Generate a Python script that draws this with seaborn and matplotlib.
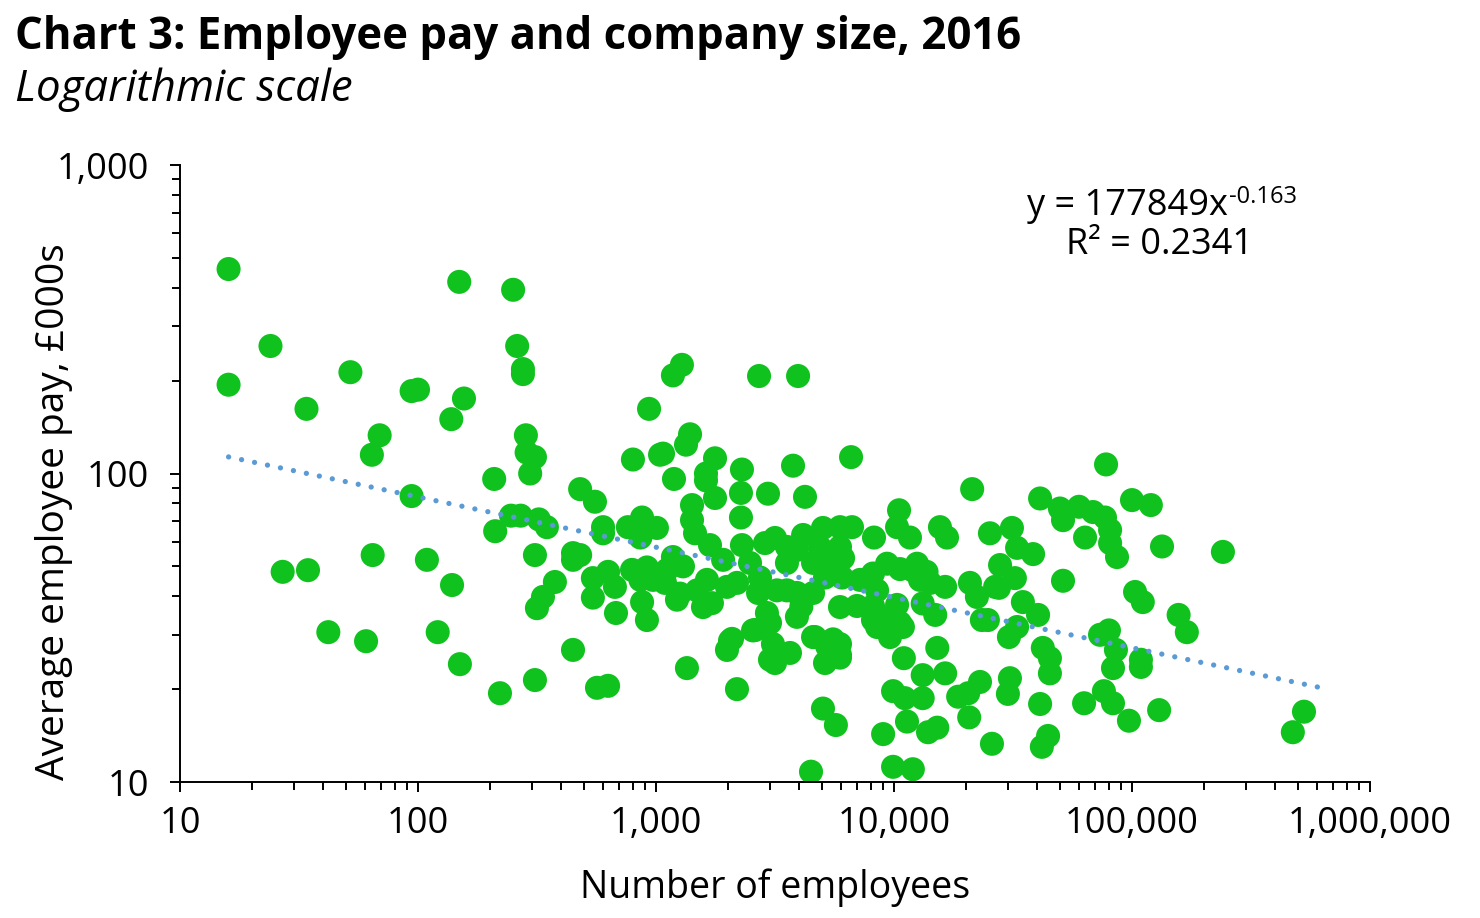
import numpy as np
import pandas as pd
import matplotlib
matplotlib.use("Agg")
import matplotlib.pyplot as plt
import matplotlib.ticker as mticker
import seaborn as sns

# ---- data: (number of employees, average employee pay in £000s) ----
employees_left = [16, 16, 24, 34, 27, 34.5, 52, 69, 64, 64.5, 42, 60.5, 94, 100, 94, 156, 138, 149,
                  251, 261, 276, 276, 284, 286, 310, 296, 209, 480, 554, 935, 800, 1040, 246, 270,
                  322, 348, 211, 599, 599, 762, 874, 860, 109, 139, 121, 150, 221, 310, 448, 565,
                  629, 310, 448, 480, 448, 376, 335, 316, 543, 629, 672, 543, 793, 860, 679, 874,
                  916, 971]
pay_left = [460, 194, 259, 162, 48, 48.6, 213, 133, 115, 54.4, 30.6, 28.6, 185, 187, 84.5, 175, 150, 418,
            394, 259, 218, 210, 133, 117, 113, 100, 96, 89, 81, 162, 111, 115, 73, 73,
            71, 67, 65, 67, 64, 67, 72, 62, 52.5, 43.5, 30.6, 24.1, 19.4, 21.4, 26.8, 20.2,
            20.5, 54.4, 55.2, 54.4, 52.5, 44.5, 39.8, 36.6, 45.8, 48, 42.9, 39.6, 48.7, 45.2, 35.3, 38.3,
            33.5, 45.2]

employees_mid = [1285, 1178, 2710, 3953, 1390, 1337, 1070, 1770, 1190, 1622, 1622, 2297, 2275, 1770,
                 2955, 4227, 3765, 6600, 1417, 1417, 2275, 1009, 10500, 8240, 15600, 16700, 21300,
                 25300, 11670, 10300, 1349, 2189, 2086, 1987, 2607, 3013, 3100, 3655, 4656, 5543,
                 5930, 5130, 5030, 5700, 4480, 9000, 9910, 12000, 11000, 15200, 13200, 16400, 9910,
                 11100, 13200, 11340, 13900, 15200, 18600, 20500, 22980, 20700, 25800, 16400, 20850,
                 22300, 23400, 14900, 26600, 10600, 9620, 8490]
pay_mid = [225, 208, 207, 207, 134, 124, 116, 112, 96, 100, 95, 103, 86.5, 83.3,
           86, 84, 106, 113, 79, 70.6, 72, 66.6, 76, 62, 67, 62, 89,
           64, 62, 67, 23.4, 20, 29.1, 26.8, 31.1, 24.9, 28, 26.2, 29.5, 29,
           25.8, 24.3, 17.3, 15.3, 10.8, 14.3, 11.2, 11.0, 25.2, 27.2, 22.2, 22.5, 19.7,
           18.7, 18.7, 15.7, 14.5, 15.0, 18.9, 19.4, 21.1, 16.2, 13.3, 42.9, 44.2,
           39.8, 33.5, 34.8, 42.9, 32.8, 29.5, 31.8]

employees_core = [1459, 1686, 2297, 2870, 3162, 4150, 5030, 5930, 6660, 5930, 6110, 4890, 3910, 3550,
                  1178, 1298, 1091, 1262, 1637, 1575, 1718, 1987, 2189, 2684, 3223, 3550, 3910, 4570,
                  5130, 6050, 5930, 7200, 8160, 9350, 8490, 8160, 9350, 2925, 3013, 2557, 3910, 4080,
                  4570, 5240, 5930, 5930, 2046, 3162, 10600, 12500, 13700, 14200, 13200, 10300, 10900,
                  1914, 2483, 3550, 4570, 5240, 1112, 916, 2735, 1487, 1225, 6990, 8160, 8730,
                  12000, 12860]
pay_core = [64, 58.6, 58.6, 59.5, 61.8, 63.2, 66.6, 67, 67, 57.8, 53.2, 57.6, 56.5, 57.8,
            53.6, 50, 44.2, 40.8, 45.2, 36.9, 38, 42.9, 44.2, 41, 41.8, 41.8, 41, 41,
            46, 46, 36.9, 45.2, 47.4, 51, 41.8, 33.5, 31, 35.3, 32.8, 31, 34.3, 37,
            29.5, 27.5, 28, 25.3, 28.7, 24.3, 49, 51, 48, 44.2, 37.9, 37.5, 31.8,
            52.5, 51.3, 51.3, 51.3, 51.3, 48.7, 49.6, 46, 41.8, 39, 37.2, 37.2, 34.3,
            48.5, 45.2]

employees_right = [77800, 41100, 49800, 51300, 59900, 68600, 77000, 80900, 80900, 86500, 63500, 100000,
                   120000, 133700, 241000, 51300, 31300, 32900, 38400, 27900, 32200, 27600, 34800,
                   40300, 32900, 30400, 24800, 103000, 111000, 157000, 170000, 73400, 80000, 85600,
                   83200, 109000, 109000, 42200, 45200, 45200, 30700, 30100, 41100, 62900, 76200,
                   83200, 97100, 130000, 44400, 41800, 528000, 474000]
pay_right = [107, 83, 77, 70.6, 78, 75, 72, 65.6, 59.5, 53.6, 62, 82,
             79, 58, 55.7, 44.9, 66.6, 57.4, 54.8, 50.5, 45.8, 42.6, 38.3,
             34.8, 31.8, 29.5, 33.5, 41.3, 38.3, 34.8, 30.6, 30, 31, 26.8,
             23.4, 24.9, 23.6, 27.2, 25.2, 22.5, 21.7, 19.3, 17.9, 18, 19.7,
             18, 15.8, 17.1, 14.1, 13, 16.9, 14.5]

# power trendline reported on the chart: y = 177849 x^-0.163 (pay in £), shown in £000s
trend_coef = 177849
trend_exp = -0.163
trend_r2 = 0.2341
trend_range = [16, 620000]

x_ticks = [10, 100, 1000, 10000, 100000, 1000000]
x_tick_labels = ["10", "100", "1,000", "10,000", "100,000", "1,000,000"]
y_ticks = [10, 100, 1000]
y_tick_labels = ["10", "100", "1,000"]

title = "Chart 3: Employee pay and company size, 2016"
subtitle = "Logarithmic scale"
x_label = "Number of employees"
y_label = "Average employee pay, £000s"

df = pd.DataFrame({
    "employees": employees_left + employees_mid + employees_core + employees_right,
    "pay": pay_left + pay_mid + pay_core + pay_right,
})

tx = np.geomspace(trend_range[0], trend_range[1], 200)
trend = pd.DataFrame({"employees": tx, "pay": trend_coef * tx ** trend_exp / 1000.0})

# ---- style ----
sns.set_style("white")
plt.rcParams["font.family"] = ["Open Sans", "DejaVu Sans"]
plt.rcParams["text.color"] = "black"
plt.rcParams["axes.labelcolor"] = "black"
plt.rcParams["xtick.color"] = "black"
plt.rcParams["ytick.color"] = "black"
plt.rcParams["xtick.bottom"] = True
plt.rcParams["ytick.left"] = True

fig = plt.figure(figsize=(14.8, 9.18), dpi=100)
ax = fig.add_axes([180 / 1480, 1 - 782 / 918, (1370 - 180) / 1480, (782 - 165) / 918])

green = "#10C21E"
sns.scatterplot(data=df, x="employees", y="pay", ax=ax, s=300, color=green,
                edgecolor="none", linewidth=0, zorder=2, legend=False)
sns.lineplot(data=trend, x="employees", y="pay", ax=ax, color="#5B9BD5", linewidth=3.8,
             linestyle=(0, (0.01, 2.5)), dash_capstyle="round", zorder=3, legend=False)

ax.set_xscale("log")
ax.set_yscale("log")
ax.set_xlim(10, 1000000)
ax.set_ylim(10, 1000)

ax.set_xticks(x_ticks)
ax.set_xticklabels(x_tick_labels)
ax.set_yticks(y_ticks)
ax.set_yticklabels(y_tick_labels)
ax.xaxis.set_minor_locator(mticker.LogLocator(base=10, subs=np.arange(2, 10), numticks=20))
ax.yaxis.set_minor_locator(mticker.LogLocator(base=10, subs=np.arange(2, 10), numticks=20))
ax.xaxis.set_minor_formatter(mticker.NullFormatter())
ax.yaxis.set_minor_formatter(mticker.NullFormatter())

ax.tick_params(axis="both", which="major", direction="out", length=7.5, width=1.4,
               colors="black", labelsize=26)
ax.tick_params(axis="both", which="minor", direction="out", length=5.5, width=1.4, colors="black")
ax.tick_params(axis="x", which="both", bottom=True, top=False)
ax.tick_params(axis="y", which="both", left=True, right=False)
ax.tick_params(axis="x", which="major", pad=10)
ax.tick_params(axis="y", which="major", pad=15)

for side in ["top", "right"]:
    ax.spines[side].set_visible(False)
for side in ["left", "bottom"]:
    ax.spines[side].set_color("black")
    ax.spines[side].set_linewidth(1.4)

ax.set_xlabel(x_label, fontsize=27)
ax.xaxis.label.set_va("center")
ax.xaxis.set_label_coords(0.5, (782 - 888) / 617)
ax.set_ylabel(y_label, fontsize=28)
ax.yaxis.label.set_va("center")
ax.yaxis.set_label_coords((54 - 180) / 1190, (782 - 512) / 617)
ax.grid(False)

fig.text(15 / 1480, 1 - 37 / 918, title, fontsize=31.5, fontweight="bold", ha="left", va="center")
fig.text(15 / 1480, 1 - 90 / 918, subtitle, fontsize=31.5, fontstyle="italic", ha="left", va="center")

t1 = ax.text((1228 - 180) / 1190, (782 - 206) / 617, "y = 177849x", transform=ax.transAxes,
             fontsize=26, ha="right", va="center")
ax.annotate(f"{trend_exp}", xy=(1, 1), xycoords=t1, xytext=(1, 2), textcoords="offset points",
            fontsize=17, ha="left", va="top")
ax.text((1160 - 180) / 1190, (782 - 245) / 617, f"R² = {trend_r2}", transform=ax.transAxes,
        fontsize=26, ha="center", va="center")

fig.savefig("out.png", dpi=100)
